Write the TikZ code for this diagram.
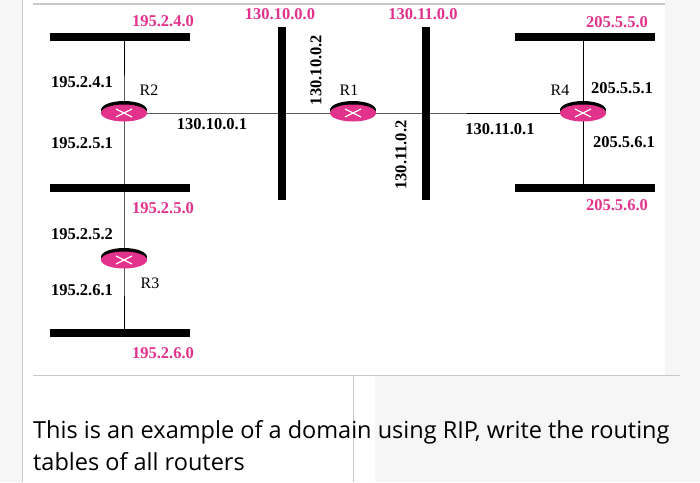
\documentclass[tikz,border=0pt]{standalone}
\usepackage{fontspec}
\setmainfont{Liberation Serif}
\newfontfamily\qfont{Open Sans}
\definecolor{mag}{RGB}{226,50,140}
\definecolor{bggray}{RGB}{246,246,246}
\definecolor{ln}{RGB}{200,200,200}
\begin{document}
\begin{tikzpicture}[x=1pt,y=-1pt,
  bus/.style={line width=8pt},
  wire/.style={line width=0.8pt},
  ip/.style={font=\bfseries\fontsize{16.5}{16}\selectfont},
  net/.style={font=\bfseries\fontsize{16.5}{16}\selectfont,text=mag},
  rl/.style={font=\fontsize{16}{16}\selectfont}]
\useasboundingbox (0,0) rectangle (700,482);
\fill[bggray] (0,0) rectangle (700,482);
\fill[white] (22,0) rectangle (665,375);
\fill[white] (22,375) rectangle (375,482);
\draw[ln,line width=1.5pt] (33,4) -- (665,4);
\draw[ln,line width=1pt] (33,375) -- (680,375);
\draw[ln,line width=1pt] (353,375) -- (353,482);
\draw[ln,line width=0.8pt] (22,0) -- (22,482);
% buses
\coordinate (b1a) at (50,37); \coordinate (b1b) at (190,37);
\coordinate (b2a) at (50,188); \coordinate (b2b) at (190,188);
\coordinate (b3a) at (50,333); \coordinate (b3b) at (190,333);
\coordinate (v1a) at (282,27); \coordinate (v1b) at (282,200);
\coordinate (v2a) at (426,27); \coordinate (v2b) at (426,200);
\coordinate (b4a) at (515,37); \coordinate (b4b) at (655,37);
\coordinate (b5a) at (515,188); \coordinate (b5b) at (655,188);
\foreach \a/\b in {b1a/b1b,b2a/b2b,b3a/b3b,v1a/v1b,v2a/v2b,b4a/b4b,b5a/b5b} \draw[bus] (\a) -- (\b);
\coordinate (R2) at (124,113); \coordinate (R3) at (124,260);
\coordinate (R1) at (353,113); \coordinate (R4) at (583,113);
\draw[wire] (124,37) -- (R2) -- (124,188) -- (R3) -- (124,333);
\draw[wire] (583,37) -- (R4) -- (583,188);
\draw[wire] (R2) -- (R1) -- (R4);
\foreach \r in {R1,R2,R3,R4}{
  \fill[black] ([yshift=3]\r) ellipse (23 and 9);
  \fill[mag] (\r) ellipse (23 and 8.5);
  \draw[white,line width=1.2pt] ([shift={(-8,-4)}]\r) -- ([shift={(8,4)}]\r);
  \draw[white,line width=1.2pt] ([shift={(-8,4)}]\r) -- ([shift={(8,-4)}]\r);
}
\node[net] (n1) at (163,21) {195.2.4.0};
\node[net] (n2) at (163,208) {195.2.5.0};
\node[net] (n3) at (163,353) {195.2.6.0};
\node[net] (n4) at (280,14) {130.10.0.0};
\node[net] (n5) at (423,14) {130.11.0.0};
\node[net] (n6) at (617,22) {205.5.5.0};
\node[net] (n7) at (617,205) {205.5.6.0};
\node[ip] (i1) at (82,82) {195.2.4.1};
\node[ip] (i2) at (82,143) {195.2.5.1};
\node[ip] (i3) at (82,234) {195.2.5.2};
\node[ip] (i4) at (82,290) {195.2.6.1};
\node[ip] (i5) at (212,124) {130.10.0.1};
\node[ip,rotate=90] (i6) at (316,70) {130.10.0.2};
\node[ip,rotate=90] (i7) at (401,155) {130.11.0.2};
\node[ip] (i8) at (500,129) {130.11.0.1};
\node[ip] (i9) at (622,88) {205.5.5.1};
\node[ip] (i10) at (624,142) {205.5.6.1};
\node[rl] (r2) at (149,90) {R2};
\node[rl] (r1) at (349,90) {R1};
\node[rl] (r4) at (560,90) {R4};
\node[rl] (r3) at (150,283) {R3};
\node[anchor=west,align=left,font=\qfont\fontsize{23.5}{32}\selectfont,inner sep=0pt] (q) at (33,446)
 {This is an example of a domain using RIP, write the routing\\tables of all routers};
\end{tikzpicture}
\end{document}
